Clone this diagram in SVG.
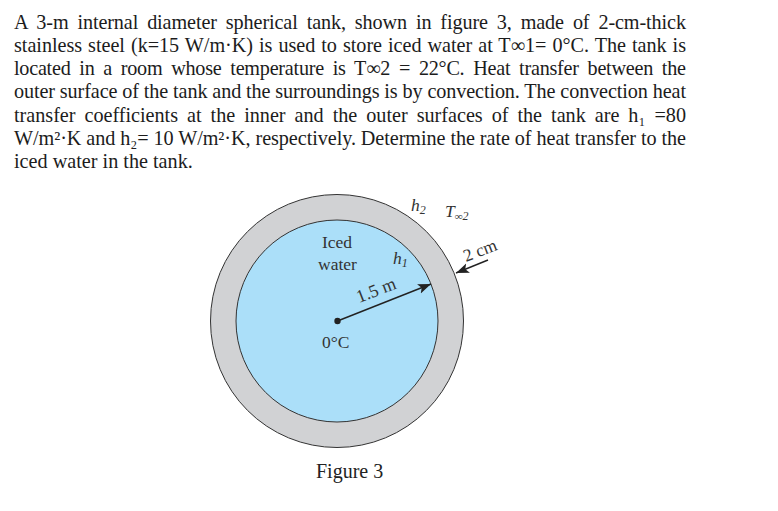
<svg xmlns="http://www.w3.org/2000/svg" width="778" height="511" viewBox="0 0 778 511">
<style>
text{font-family:"Liberation Serif","DejaVu Serif",serif;fill:#222}
.p{font-size:20.2px;fill:#1c1c1c}
.l{font-size:17.5px;fill:#333}
.i{font-style:italic}
</style>
<defs>
<marker id="ah" markerUnits="userSpaceOnUse" markerWidth="14" markerHeight="12" refX="13" refY="5" orient="auto"><path d="M0 0L13 5L0 10L3 5Z" fill="#222"/></marker>
</defs>
<rect width="778" height="511" fill="#fff"/>
<g id="problem-text">
<text class="p" x="14" y="29" textLength="672" lengthAdjust="spacing" style="word-spacing:4px">A 3-m internal diameter spherical tank, shown in figure 3, made of 2-cm-thick</text>
<text class="p" x="14" y="52" textLength="672" lengthAdjust="spacing" style="word-spacing:1px">stainless steel (k=15 W/m·K) is used to store iced water at T∞1= 0°C. The tank is</text>
<text class="p" x="14" y="75" textLength="672" lengthAdjust="spacing" style="word-spacing:4px">located in a room whose temperature is T∞2 = 22°C. Heat transfer between the</text>
<text class="p" x="14" y="98" textLength="672" lengthAdjust="spacing">outer surface of the tank and the surroundings is by convection. The convection heat</text>
<text class="p" x="14" y="122" textLength="672" lengthAdjust="spacing" style="word-spacing:4px">transfer coefficients at the inner and the outer surfaces of the tank are h₁ =80</text>
<text class="p" x="14" y="145" textLength="672" lengthAdjust="spacing">W/m²·K and h₂= 10 W/m²·K, respectively. Determine the rate of heat transfer to the</text>
<text class="p" x="14" y="168">iced water in the tank.</text>
</g>
<g id="tank">
<circle cx="337" cy="321" r="126.500" fill="#d1d2d4" stroke="#333" stroke-width="1"/>
<circle cx="337" cy="321" r="101" fill="#abdff9" stroke="#333" stroke-width="1"/>
</g>
<g id="connectors" fill="none" stroke="#222" stroke-width="1.4">
<path d="M337.500 321L431 284" marker-end="url(#ah)"/>
<path d="M488 260L456 273" marker-end="url(#ah)"/>
</g>
<circle id="center-point" cx="337.500" cy="321" r="3.200" fill="#222"/>
<g id="labels">
<text class="l" x="322" y="248">Iced</text>
<text class="l" x="318" y="270">water</text>
<text class="l" x="322" y="348">0°C</text>
<text class="l i" x="393" y="264">h<tspan font-size="12" dy="3">1</tspan></text>
<text class="l i" x="411" y="211">h<tspan font-size="12" dy="3">2</tspan></text>
<text class="l i" x="445" y="217">T<tspan font-size="11" dy="3">∞</tspan><tspan font-size="12">2</tspan></text>
<text class="l" transform="translate(359 303) rotate(-21)" style="font-size:18px">1.5 m</text>
<text class="l" transform="translate(466 262) rotate(-21)" style="font-size:17.5px">2 cm</text>
<text x="316" y="478" style="font-size:20px;fill:#222">Figure 3</text>
</g>
</svg>
